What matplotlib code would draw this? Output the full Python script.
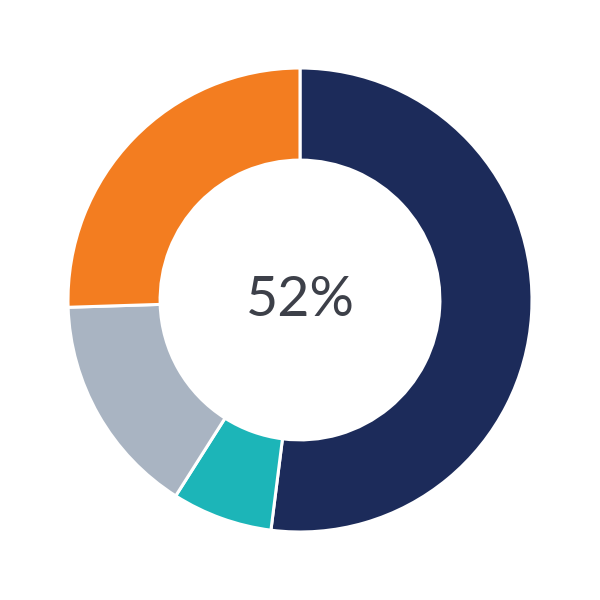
import matplotlib
matplotlib.use("Agg")
import matplotlib.pyplot as plt

# segment shares, clockwise from 12 o'clock
labels = ["A", "B", "C", "D"]
values = [52, 7, 15.5, 25.5]
colors = ["#1c2b5a", "#1cb5b8", "#a9b4c2", "#f37d20"]
center_text = "52%"

fig = plt.figure(figsize=(6, 6), dpi=100)
ax = fig.add_axes([0, 0, 1, 1])

ax.pie(values, colors=colors, startangle=90, counterclock=False,
       radius=1.0,
       wedgeprops=dict(width=0.397, edgecolor="white", linewidth=2.2))

ax.text(0, 0, center_text, ha="center", va="center",
        fontsize=40, color="#3d4049", family="Lato", fontweight="normal")

lim = 300 / 232
ax.set_xlim(-lim, lim)
ax.set_ylim(-lim, lim)
ax.set_aspect("equal")
ax.axis("off")

fig.savefig("out.png", dpi=100, facecolor="white")
